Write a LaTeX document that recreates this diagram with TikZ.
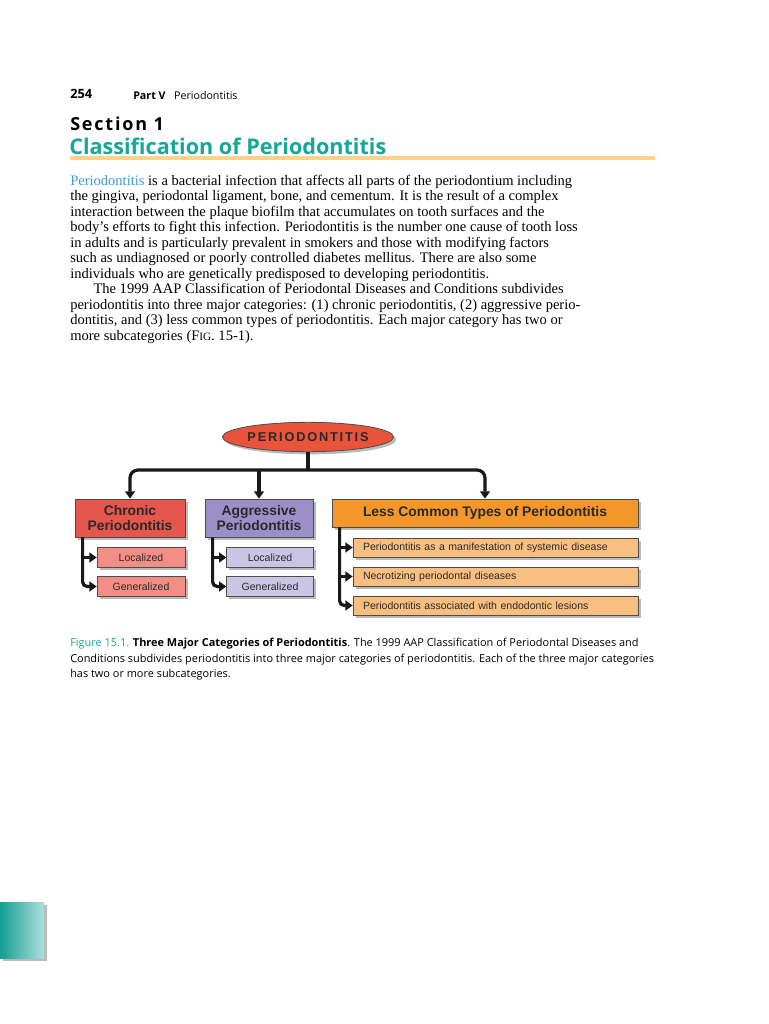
\documentclass[tikz,border=0pt]{standalone}
\usepackage{fontspec}
\setmainfont{Liberation Serif}
\newfontfamily\capfont{Open Sans}
\newfontfamily\spacedcap[LetterSpace=10]{Open Sans}
\newfontfamily\boxfont{Liberation Sans}
\newfontfamily\spacedbox[LetterSpace=14]{Liberation Sans}
\usetikzlibrary{positioning,arrows.meta,shapes.geometric,shadows,calc}

\definecolor{tealtxt}{HTML}{14A89A}
\definecolor{bluetxt}{HTML}{3A9AD9}
\definecolor{peachrule}{HTML}{FDD28C}
\definecolor{rootred}{HTML}{E8533C}
\definecolor{chronred}{HTML}{E5574C}
\definecolor{chronsub}{HTML}{F28E86}
\definecolor{aggrpurp}{HTML}{9C8FC8}
\definecolor{aggrsub}{HTML}{CBC4E5}
\definecolor{lessorng}{HTML}{F4962A}
\definecolor{lesssub}{HTML}{F9BF80}
\definecolor{inkgray}{HTML}{2A2A2A}

\begin{document}
\begin{tikzpicture}[
  x=0.75pt, y=-0.75pt,
  >={Triangle[width=7.5pt,length=5.5pt]},
  shade/.style={drop shadow={shadow xshift=2pt, shadow yshift=-2pt, fill=black!45, opacity=0.6}},
  rootnode/.style={ellipse, draw=black!70, fill=rootred, line width=0.6pt, minimum width=126pt, minimum height=22pt, inner sep=0pt, font=\spacedbox\bfseries\fontsize{9.6}{10}\selectfont, text=inkgray, shade},
  catbox/.style={draw=black!70, line width=0.6pt, inner sep=0pt, font=\boxfont\bfseries\fontsize{10.4}{10.6}\selectfont, text=inkgray, align=center, shade},
  subbox/.style={draw=black!70, line width=0.5pt, inner sep=0pt, font=\boxfont\fontsize{7.9}{8.5}\selectfont, text=inkgray, shade},
  lessitem/.style={subbox, fill=lesssub, minimum height=14.5pt, text width=198.75pt, inner xsep=7.5pt, align=left},
  tree/.style={draw=black!90, line width=2.4pt, rounded corners=6pt},
  subtree/.style={->, draw=black!90, line width=2.4pt, rounded corners=3.5pt},
  branch/.style={->, draw=black!90, line width=2.4pt}
]
  \useasboundingbox (0,0) rectangle (768,1024);

  % page header
  \node[anchor=west, inner sep=0pt, font=\capfont\bfseries\fontsize{9.6}{12}\selectfont] (pageno) at (70,94) {254};
  \node[anchor=west, inner sep=0pt, font=\capfont\fontsize{8}{9}\selectfont] (running) at (133,95) {\textbf{Part V}\hspace{0.8em}Periodontitis};
  \node[anchor=west, inner sep=0pt, font=\spacedcap\bfseries\fontsize{13.5}{15}\selectfont] (secno) at (70,124) {Section 1};
  \node[anchor=west, inner sep=0pt, font=\capfont\bfseries\fontsize{16.2}{18}\selectfont, text=tealtxt] (title) at (69,146) {Classification of Periodontitis};
  \draw[peachrule, line width=2.4pt] (70,158) -- (655,158);

  % body text
  \node[anchor=north west, inner sep=0pt, align=left, font=\fontsize{10.9}{11.62}\selectfont] (body) at (70,175) {%
    \textcolor{bluetxt}{Periodontitis} is a bacterial infection that affects all parts of the periodontium including\\
    the gingiva, periodontal ligament, bone, and cementum. It is the result of a complex\\
    interaction between the plaque biofilm that accumulates on tooth surfaces and the\\
    body's efforts to fight this infection. Periodontitis is the number one cause of tooth loss\\
    in adults and is particularly prevalent in smokers and those with modifying factors\\
    such as undiagnosed or poorly controlled diabetes mellitus. There are also some\\
    individuals who are genetically predisposed to developing periodontitis.\\
    \hspace*{1.6em}The 1999 AAP Classification of Periodontal Diseases and Conditions subdivides\\
    periodontitis into three major categories: (1) chronic periodontitis, (2) aggressive perio-\\
    dontitis, and (3) less common types of periodontitis. Each major category has two or\\
    more subcategories (F{\fontsize{8.4}{9}\selectfont IG}. 15-1).};

  % figure 15.1
  \node[rootnode] (root) at (308,437) {PERIODONTITIS};
  \node[catbox, fill=chronred, minimum width=82.5pt, minimum height=28.5pt] (chronic) at (130,518) {Chronic\\Periodontitis};
  \node[catbox, fill=aggrpurp, minimum width=81pt, minimum height=28.5pt] (aggr) at (259,518) {Aggressive\\Periodontitis};
  \node[catbox, fill=lessorng, minimum width=229.5pt, minimum height=21pt] (less) at (485,513) {Less Common Types of Periodontitis};

  \node[subbox, fill=chronsub, minimum width=66pt, minimum height=15pt] (cloc) at (141,557.5) {Localized};
  \node[subbox, fill=chronsub, minimum width=66pt, minimum height=15pt] (cgen) at (141,586.5) {Generalized};
  \node[subbox, fill=aggrsub, minimum width=65pt, minimum height=15pt] (aloc) at (270,557.5) {Localized};
  \node[subbox, fill=aggrsub, minimum width=65pt, minimum height=15pt] (agen) at (270,586.5) {Generalized};
  \node[lessitem] (lsys) at (495.5,547.5) {Periodontitis as a manifestation of systemic disease};
  \node[lessitem] (lnec) at (495.5,576.5) {Necrotizing periodontal diseases};
  \node[lessitem] (lendo) at (495.5,605.5) {Periodontitis associated with endodontic lesions};

  \coordinate (hub) at (308,470);
  \draw[tree] (root.south) -- (hub);
  \draw[tree, ->] (hub) -| (chronic.north);
  \draw[tree, ->] (hub) -| (less.north);
  \draw[branch] (aggr.north |- hub) -- (aggr.north);

  \coordinate (ctrunk) at ($(chronic.south west)+(8,0)$);
  \coordinate (atrunk) at ($(aggr.south west)+(8,0)$);
  \coordinate (ltrunk) at ($(less.south west)+(8,0)$);
  \draw[subtree] (ctrunk) |- (cgen.west);
  \draw[branch] (ctrunk |- cloc.west) -- (cloc.west);
  \draw[subtree] (atrunk) |- (agen.west);
  \draw[branch] (atrunk |- aloc.west) -- (aloc.west);
  \draw[subtree] (ltrunk) |- (lendo.west);
  \draw[branch] (ltrunk |- lsys.west) -- (lsys.west);
  \draw[branch] (ltrunk |- lnec.west) -- (lnec.west);

  % caption
  \node[anchor=north west, inner sep=0pt, align=left, font=\capfont\fontsize{8.2}{11.62}\selectfont] (caption) at (70,638) {%
    \textcolor{tealtxt}{Figure 15.1.} \textbf{Three Major Categories of Periodontitis}. The 1999 AAP Classification of Periodontal Diseases and\\
    Conditions subdivides periodontitis into three major categories of periodontitis. Each of the three major categories\\
    has two or more subcategories.};

  % thumb tab
  \shade[left color=tealtxt!95!black, right color=tealtxt!35] (0,902) rectangle (44,958);
\end{tikzpicture}
\end{document}
